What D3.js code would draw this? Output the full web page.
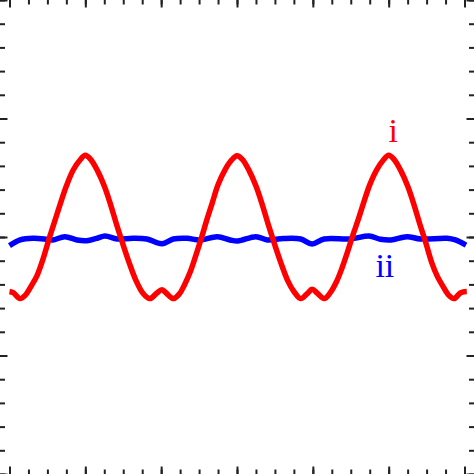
<!DOCTYPE html>
<html>
<head>
<meta charset="utf-8">
<script src="https://cdn.jsdelivr.net/npm/d3@7"></script>
<style>
  html, body { margin: 0; padding: 0; background: #fff; }
  svg { display: block; }
</style>
</head>
<body>
<div class="chart"></div>
<script>
// Curve i (red): [x, y]
const curveI = [
  [0.00, -0.46], [0.05, -0.47], [0.14, -0.52], [0.21, -0.49], [0.29, -0.41], [0.36, -0.33],
  [0.44, -0.19], [0.52, -0.02], [0.60, 0.14], [0.67, 0.28], [0.75, 0.43], [0.84, 0.565],
  [0.93, 0.65], [1.00, 0.69], [1.07, 0.655], [1.16, 0.56], [1.25, 0.43], [1.33, 0.28],
  [1.41, 0.11], [1.49, -0.05], [1.58, -0.22], [1.67, -0.37], [1.76, -0.475], [1.85, -0.52],
  [1.94, -0.475], [2.01, -0.445], [2.07, -0.475], [2.16, -0.52], [2.24, -0.48], [2.31, -0.40],
  [2.38, -0.30], [2.45, -0.17], [2.53, -0.01], [2.60, 0.14], [2.67, 0.28], [2.75, 0.44],
  [2.84, 0.565], [2.93, 0.65], [3.00, 0.685], [3.07, 0.655], [3.16, 0.56], [3.25, 0.43],
  [3.33, 0.28], [3.41, 0.11], [3.49, -0.05], [3.58, -0.22], [3.67, -0.37], [3.75, -0.46],
  [3.84, -0.52], [3.93, -0.475], [3.99, -0.44], [4.06, -0.475], [4.15, -0.52], [4.23, -0.47],
  [4.31, -0.38], [4.38, -0.27], [4.45, -0.14], [4.53, 0.02], [4.60, 0.15], [4.67, 0.29],
  [4.75, 0.44], [4.84, 0.565], [4.93, 0.65], [5.00, 0.69], [5.07, 0.655], [5.16, 0.56],
  [5.25, 0.43], [5.33, 0.28], [5.41, 0.11], [5.49, -0.05], [5.57, -0.22], [5.64, -0.33],
  [5.71, -0.41], [5.79, -0.49], [5.86, -0.52], [5.95, -0.47], [6.03, -0.46]
];

// Curve ii (blue)
const curveII = [
  [0.00, -0.073], [0.14, -0.025], [0.31, -0.011], [0.49, -0.019], [0.57, -0.025], [0.73, 0.003],
  [0.89, -0.025], [1.02, -0.031], [1.15, -0.011], [1.26, 0.008], [1.42, -0.017], [1.63, -0.011],
  [1.81, -0.017], [2.01, -0.057], [2.16, -0.017], [2.34, -0.011], [2.51, -0.025], [2.74, 0.003],
  [2.91, -0.025], [3.01, -0.034], [3.25, 0.003], [3.40, -0.025], [3.61, -0.013], [3.84, -0.017],
  [3.99, -0.059], [4.15, -0.017], [4.50, -0.017], [4.74, 0.008], [4.89, -0.019], [5.03, -0.025],
  [5.24, 0.003], [5.42, -0.017], [5.77, -0.011], [5.88, -0.025], [6.02, -0.068]
];

const labelText = ['i', 'ii'];
const labelX = [5.06, 4.95];
const labelY = [0.80, -0.34];

const xMajor = d3.range(0, 6.01, 1);
const xMinor = d3.range(0, 6.01, 0.25);
const yMajor = d3.range(-2, 2.01, 1);
const yMinor = d3.range(-2, 2.01, 0.2);

const width = 474, height = 474;
const svg = d3.select('.chart').append('svg')
    .attr('width', width)
    .attr('height', height);

const x = d3.scaleLinear().domain([-0.125, 6.125]).range([0, width]);
const y = d3.scaleLinear().domain([-2, 2]).range([height, 0]);

// tick marks on all four sides, pointing inward
function ticks(axis, vals, len, transform) {
    const g = svg.append('g')
        .attr('transform', transform)
        .call(axis.tickValues(vals).tickSizeInner(-len).tickSizeOuter(0).tickFormat(''));
    g.select('.domain').remove();
    g.selectAll('.tick line').attr('stroke', '#222').attr('stroke-width', 2);
}
ticks(d3.axisBottom(x), xMinor, 4.5, `translate(0,${height})`);
ticks(d3.axisBottom(x), xMajor, 7.5, `translate(0,${height})`);
ticks(d3.axisTop(x), xMinor, 4.5, 'translate(0,0)');
ticks(d3.axisTop(x), xMajor, 7.5, 'translate(0,0)');
ticks(d3.axisLeft(y), yMinor, 5, 'translate(0,0)');
ticks(d3.axisLeft(y), yMajor, 7.5, 'translate(0,0)');
ticks(d3.axisRight(y), yMinor, 5, `translate(${width},0)`);
ticks(d3.axisRight(y), yMajor, 7.5, `translate(${width},0)`);

const line = d3.line()
    .x(d => x(d[0]))
    .y(d => y(d[1]))
    .curve(d3.curveCatmullRom.alpha(0.5));

svg.append('path')
    .datum(curveII)
    .attr('d', line)
    .attr('fill', 'none')
    .attr('stroke', '#0000ff')
    .attr('stroke-width', 5.5)
    .attr('stroke-linejoin', 'round');

svg.append('path')
    .datum(curveI)
    .attr('d', line)
    .attr('fill', 'none')
    .attr('stroke', '#ff0000')
    .attr('stroke-width', 5.5)
    .attr('stroke-linejoin', 'round');

const colors = ['#ff0000', '#0000ff'];
labelText.forEach((t, i) => {
    svg.append('text')
        .attr('x', x(labelX[i]))
        .attr('y', y(labelY[i]))
        .attr('text-anchor', 'middle')
        .attr('fill', colors[i])
        .style('font-family', '"Liberation Serif", "DejaVu Serif", serif')
        .style('font-size', '34px')
        .text(t);
});
</script>
</body>
</html>
